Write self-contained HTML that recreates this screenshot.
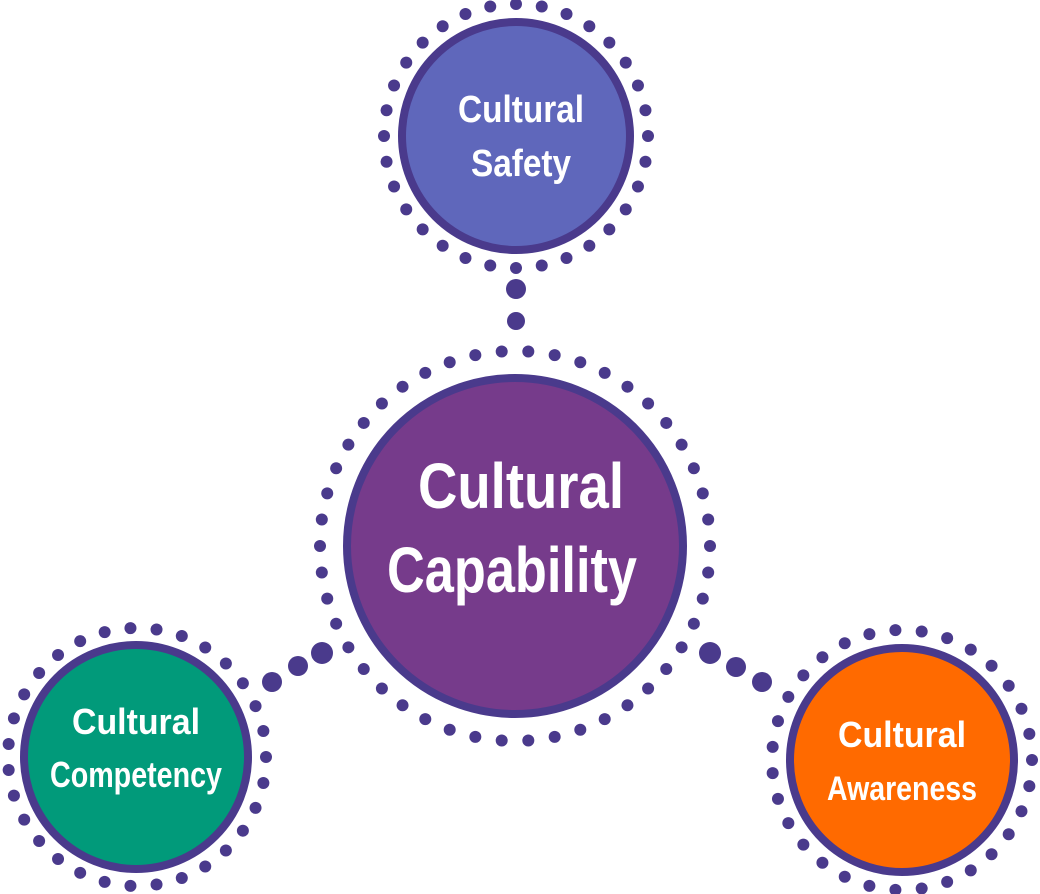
<!DOCTYPE html>
<html><head><meta charset="utf-8"><style>
html,body{margin:0;padding:0;background:#fff;width:1040px;height:894px;overflow:hidden}
text{font-family:"Liberation Sans",sans-serif;font-weight:bold;fill:#fff;text-anchor:middle}
</style></head><body>
<svg id="s" width="1040" height="894" viewBox="0 0 1040 894" xmlns="http://www.w3.org/2000/svg">
<g id="dots" fill="#4a3a8c"></g>
<circle cx="516" cy="136" r="114" fill="#5f67bb" stroke="#4a3a8c" stroke-width="8"/>
<circle cx="515" cy="546" r="168" fill="#763b8b" stroke="#4a3a8c" stroke-width="8"/>
<circle cx="136" cy="757" r="112" fill="#019a7a" stroke="#4a3a8c" stroke-width="8"/>
<circle cx="902" cy="760" r="112" fill="#ff6a00" stroke="#4a3a8c" stroke-width="8"/>
<g fill="#4a3a8c">
<circle cx="516" cy="289" r="10"/><circle cx="516" cy="321" r="9"/>
<circle cx="272" cy="682" r="10"/><circle cx="298" cy="666" r="10"/><circle cx="322" cy="653" r="11"/>
<circle cx="710" cy="653" r="11"/><circle cx="736" cy="667" r="10"/><circle cx="762" cy="682" r="10"/>
</g>
<text x="521" y="122" font-size="38" textLength="126" lengthAdjust="spacingAndGlyphs">Cultural</text>
<text x="521" y="176" font-size="38" textLength="100" lengthAdjust="spacingAndGlyphs">Safety</text>
<text x="521" y="508" font-size="64" textLength="206" lengthAdjust="spacingAndGlyphs">Cultural</text>
<text x="512" y="592" font-size="64" textLength="250" lengthAdjust="spacingAndGlyphs">Capability</text>
<text x="136" y="734" font-size="36" textLength="128" lengthAdjust="spacingAndGlyphs">Cultural</text>
<text x="136" y="787" font-size="36" textLength="172" lengthAdjust="spacingAndGlyphs">Competency</text>
<text x="902" y="747" font-size="36" textLength="128" lengthAdjust="spacingAndGlyphs">Cultural</text>
<text x="902" y="800" font-size="34" textLength="150" lengthAdjust="spacingAndGlyphs">Awareness</text>
</svg>
<script>
var g=document.getElementById('dots');
function ring(cx,cy,r,n,dr,off){for(var i=0;i<n;i++){var a=off+i*2*Math.PI/n;var c=document.createElementNS('http://www.w3.org/2000/svg','circle');c.setAttribute('cx',cx+r*Math.cos(a));c.setAttribute('cy',cy+r*Math.sin(a));c.setAttribute('r',dr);g.appendChild(c);}}
ring(516,136,132,32,6,0);
ring(515,546,195,46,6,0);
ring(137,757,129,31,6,0);
ring(902,760,130,31,6,0);
</script>
</body></html>
